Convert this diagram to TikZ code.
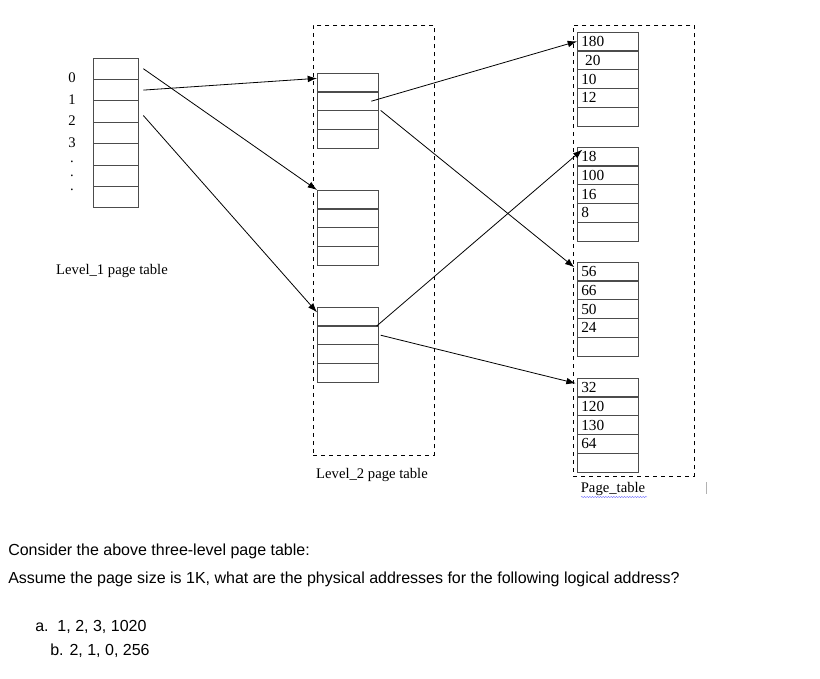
\documentclass[tikz,border=0pt]{standalone}
\usepackage{fontspec}
\setmainfont{Liberation Serif}
\newfontfamily\arial{Liberation Sans}
\usetikzlibrary{decorations.pathmorphing,arrows.meta}
\begin{document}
\begin{tikzpicture}[x=0.75pt,y=-0.75pt,
  cell/.style={draw=black!70,line width=0.5pt,minimum width=#1*0.75pt,minimum height=19*0.75pt,inner sep=0pt,anchor=north west,outer sep=0pt},
  lcell/.style={draw=black!70,line width=0.5pt,minimum width=45*0.75pt,minimum height=21.4*0.75pt,inner sep=0pt,anchor=north west,outer sep=0pt},
  val/.style={font=\fontsize{11.5}{13}\selectfont,anchor=west,inner sep=0pt},
  box/.style={draw,dashed,line width=0.7pt},
  arr/.style={-{Latex[length=7pt,width=5pt]},line width=0.6pt},
  lbl/.style={font=\fontsize{11}{13}\selectfont},
  q/.style={font=\arial\fontsize{12}{14}\selectfont,anchor=west,inner sep=0pt}]
\useasboundingbox (0,0) rectangle (820,678);
% level 1
\foreach \i in {0,...,6} \node[lcell] (L\i) at (93,{58+21.4*\i}) {};
\foreach \t/\y in {0/78,1/100,2/121,3/143} \node[lbl] (n\t) at (72,\y) {\t};
\foreach \y/\k in {162/a,176/b,190/c} \node[lbl,inner sep=0pt] (d\k) at (72,\y) {.};
\node[lbl] (l1) at (112,271) {Level\_1 page table};
% level 2
\node[box,minimum width=121*0.75pt,minimum height=430*0.75pt,anchor=north west,inner sep=0pt] (B2) at (313,25) {};
\foreach \t/\y in {a/73,b/190,c/307}
  \foreach \i in {0,...,3} \node[cell=61] (M\t\i) at (317,{\y+18.7*\i}) {};
\node[lbl] (l2) at (372,475) {Level\_2 page table};
% page tables
\node[box,minimum width=121*0.75pt,minimum height=451*0.75pt,anchor=north west,inner sep=0pt] (B3) at (573,25) {};
\foreach \t/\y/\va/\vb/\vc/\vd in {a/32/180/\ 20/10/12, b/147/18/100/16/8, c/262/56/66/50/24, d/378/32/120/130/64}{
  \foreach \i in {0,...,4} \node[cell=61] (P\t\i) at (577,{\y+18.8*\i}) {};
  \node[val] at ([xshift=3pt]P\t0.west) {\va};
  \node[val] at ([xshift=3pt]P\t1.west) {\vb};
  \node[val] at ([xshift=3pt]P\t2.west) {\vc};
  \node[val] at ([xshift=3pt]P\t3.west) {\vd};
}
\node[lbl] (l3) at (613,489) {Page\_table};
\draw[blue!60,line width=0.3pt,decorate,decoration={snake,amplitude=0.4pt,segment length=2pt}] (581,497) -- (647,497);
\draw[black!30,line width=0.5pt] (706,482) -- (706,494);
% arrows
\draw[arr] ([xshift=4pt]L0.east) -- (Mb0.north west);
\draw[arr] ([xshift=4pt]L1.east) -- ([yshift=-4pt]Ma0.north west);
\draw[arr] ([xshift=4pt,yshift=-3pt]L2.east) -- ([yshift=-4pt]Mc0.north west);
\draw[arr] ([xshift=-5pt]Ma1.east) -- ([yshift=-7pt]Pa0.north west);
\draw[arr] ([xshift=2pt]Ma2.north east) -- ([xshift=-2pt,yshift=-4pt]Pc0.north west);
\draw[arr] ([xshift=-1pt]Mc0.south east) -- ([xshift=4pt,yshift=-2pt]Pb0.north west);
\draw[arr] ([xshift=2pt]Mc1.east) -- ([xshift=-1pt,yshift=-4pt]Pd0.north west);
% question text
\node[q] (t1) at (8,551) {Consider the above three-level page table:};
\node[q] (t2) at (8,579) {Assume the page size is 1K, what are the physical addresses for the following logical address?};
\node[q] (t3) at (35,627) {a.\ \ 1, 2, 3, 1020};
\node[q] (t4) at (50,651) {b. 2, 1, 0, 256};
\end{tikzpicture}
\end{document}
